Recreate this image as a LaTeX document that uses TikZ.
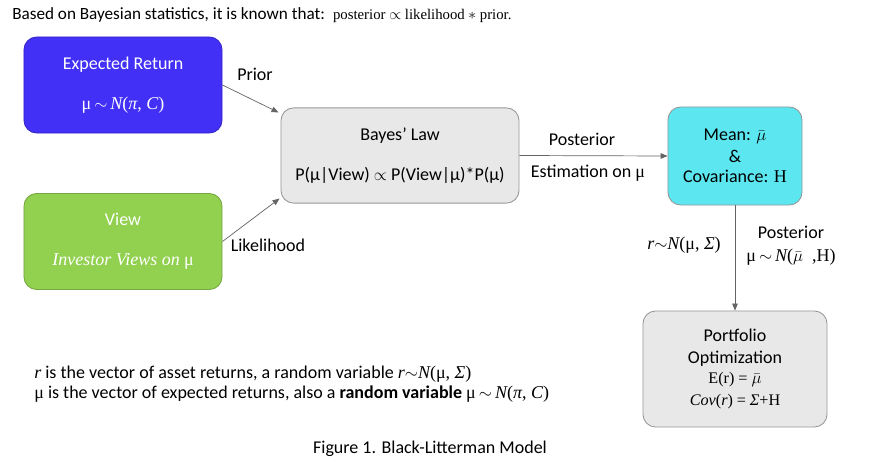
\documentclass[tikz,border=0pt]{standalone}
\usepackage{fontspec}
\setmainfont{Carlito}
\newfontfamily\serfont{Liberation Serif}
\usetikzlibrary{arrows.meta}
\definecolor{exprblue}{RGB}{66,48,246}
\definecolor{viewgreen}{RGB}{146,208,80}
\definecolor{meancyan}{RGB}{92,230,240}
\definecolor{boxgray}{RGB}{232,232,232}
\definecolor{edgegray}{RGB}{150,150,150}
\definecolor{linegray}{RGB}{100,100,100}
\newcommand{\ser}[1]{{\serfont #1}}
\newcommand{\seri}[1]{{\serfont\itshape #1}}
\newcommand{\formsize}{\fontsize{11.5}{12.8}\selectfont}
\begin{document}
\begin{tikzpicture}
[x=0.025cm,y=-0.025cm,
 boxdecorate/.style={shape=rectangle,rounded corners=9pt,draw=edgegray,line width=0.6pt,
   align=center,font=\fontsize{12.8}{15.6}\selectfont,minimum width=4.95cm,minimum height=2.4cm},
 linedecorate/.style={-{Triangle[length=5pt,width=4pt]},draw=linegray,line width=0.5pt},
 labeldecorate/.style={font=\fontsize{12.8}{15.6}\selectfont,align=center}]
\useasboundingbox (0,0) rectangle (894,473);
%% header line
\node (header) at (12,15) [anchor=west,inner sep=0pt,font=\fontsize{12.2}{14}\selectfont]
 {Based on Bayesian statistics, it is known that:\,
  {\serfont\fontsize{10.5}{12}\selectfont posterior $\propto$ likelihood $\ast$ prior.}};
%% boxes
\node (Expected) at (123,85) [boxdecorate,fill=exprblue,draw=exprblue!80!black,text=white]
 {Expected Return\\[13pt] \ser{μ\,$\sim$\,\seri{N}(\seri{π}, \seri{C})}};
\node (View) at (123,241.5) [boxdecorate,fill=viewgreen,draw=viewgreen!80!black,text=white]
 {View\\[13pt] \seri{Investor Views on} \ser{μ}};
\node (Bayes) at (400,155.5) [boxdecorate,fill=boxgray,minimum width=5.95cm,minimum height=2.38cm]
 {Bayes’ Law\\[13pt] P(μ|View) $\propto$ P(View|μ)*P(μ)};
\node (Mean) at (735,156) [boxdecorate,fill=meancyan,minimum width=3.35cm,minimum height=2.45cm]
 {Mean: $\bar{\mu}$\\ \&\\[-1pt] Covariance: \ser{H}};
\node (Portfolio) at (735,369) [boxdecorate,fill=boxgray,minimum width=4.6cm,minimum height=2.9cm]
 {Portfolio\\ Optimization\\[-1pt]
  \formsize\ser{E(r) = $\bar{\mu}$}\\[0pt] \formsize\seri{Cov}\ser{(}\seri{r}\ser{) =} \seri{Σ}\ser{+H}};
%% edges
\draw[linedecorate] (Expected.east) -- ([shift={(-2,5)}]Bayes.north west);
\draw[linedecorate] (View.east) -- ([shift={(-1,-5)}]Bayes.south west);
\draw[linedecorate] (Bayes.east) -- (Mean.west);
\draw[linedecorate] (Mean.south) -- (Portfolio.north);
%% edge labels
\node (priorlabel) at (255,74) [labeldecorate] {Prior};
\node (likelabel) at (268,245) [labeldecorate] {Likelihood};
\node (postlabel) at (582,139) [labeldecorate] {Posterior};
\node (estlabel) at (588,173) [labeldecorate] {Estimation on \ser{μ}};
\node (rlabel) at (684,245) [labeldecorate]
 {\ser{\seri{r}$\sim$\seri{N}(μ, \seri{Σ})}};
\node (postmu) at (791,246) [labeldecorate]
 {Posterior\\[1pt] \ser{μ\,$\sim$\,\seri{N}($\bar{\mu}$\ \ ,H)}};
%% notes
\node (note1) at (34,374) [anchor=west,inner sep=0pt,font=\fontsize{12.8}{15}\selectfont]
 {\seri{r} is the vector of asset returns, a random variable \ser{\seri{r}$\sim$\seri{N}(μ, \seri{Σ})}};
\node (note2) at (34,394) [anchor=west,inner sep=0pt,font=\fontsize{12.8}{15}\selectfont]
 {\ser{μ} is the vector of expected returns, also a \textbf{random variable} \ser{μ\,$\sim$\,\seri{N}(\seri{π}, \seri{C})}};
\node (caption) at (430,449) [font=\fontsize{12.8}{15}\selectfont] {Figure 1. Black-Litterman Model};
\end{tikzpicture}
\end{document}
